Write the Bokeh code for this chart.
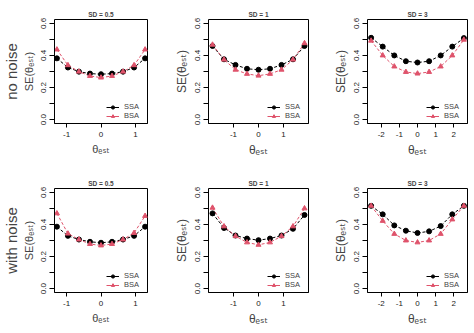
from bokeh.plotting import figure
from bokeh.layouts import gridplot
from bokeh.models import Range1d, FixedTicker, PrintfTickFormatter, Legend, LegendItem, Title
from bokeh.embed import file_html
from bokeh.resources import INLINE

# ---- data ----
x_sd05 = [-1.28, -0.96, -0.64, -0.32, 0.0, 0.32, 0.64, 0.96, 1.28]
x_sd1 = [-1.84, -1.38, -0.92, -0.46, 0.0, 0.46, 0.92, 1.38, 1.84]
x_sd3 = [-2.56, -1.92, -1.28, -0.64, 0.0, 0.64, 1.28, 1.92, 2.56]

ssa_nn_05 = [0.382, 0.325, 0.299, 0.287, 0.283, 0.287, 0.299, 0.325, 0.382]
bsa_nn_05 = [0.437, 0.339, 0.299, 0.272, 0.262, 0.272, 0.299, 0.339, 0.437]
ssa_nn_1 = [0.459, 0.376, 0.341, 0.317, 0.311, 0.317, 0.341, 0.376, 0.459]
bsa_nn_1 = [0.467, 0.374, 0.311, 0.285, 0.274, 0.285, 0.311, 0.374, 0.476]
ssa_nn_3 = [0.510, 0.455, 0.400, 0.364, 0.356, 0.364, 0.400, 0.455, 0.508]
bsa_nn_3 = [0.492, 0.400, 0.331, 0.297, 0.287, 0.297, 0.331, 0.400, 0.498]

ssa_wn_05 = [0.386, 0.329, 0.306, 0.292, 0.286, 0.292, 0.306, 0.329, 0.386]
bsa_wn_05 = [0.469, 0.343, 0.306, 0.278, 0.269, 0.278, 0.306, 0.347, 0.453]
ssa_wn_1 = [0.469, 0.378, 0.331, 0.312, 0.302, 0.312, 0.331, 0.373, 0.459]
bsa_wn_1 = [0.504, 0.388, 0.327, 0.288, 0.273, 0.288, 0.327, 0.388, 0.500]
ssa_wn_3 = [0.516, 0.463, 0.394, 0.361, 0.347, 0.357, 0.390, 0.463, 0.516]
bsa_wn_3 = [0.516, 0.422, 0.341, 0.300, 0.288, 0.300, 0.341, 0.431, 0.516]

titles = ["SD = 0.5", "SD = 1", "SD = 3"]
row_labels = ["no noise", "with noise"]
series_names = ["SSA", "BSA"]
y_ticks = [0.0, 0.2, 0.4, 0.6]
y_minor = [0.1, 0.3, 0.5]
x_ticks_sd05 = [-1, 0, 1]
x_ticks_sd1 = [-1, 0, 1]
x_ticks_sd3 = [-2, -1, 0, 1, 2]
x_half_sd05 = 1.35
x_half_sd1 = 2.0
x_half_sd3 = 2.76
y_label = "SE(θₑₛₜ)"
x_label = "θₑₛₜ"

FONT = "Liberation Sans, DejaVu Sans"
BLACK = "#000000"
PINK = "#DF536B"


def panel(xs, ssa, bsa, half, xticks, title, w, h, bl, br, bt, bb, row_label=None, lab_size="12px"):
    p = figure(width=w, height=h, output_backend="svg", toolbar_location=None,
               x_range=Range1d(-half, half), y_range=Range1d(-0.024, 0.624),
               min_border_left=bl, min_border_right=br, min_border_top=bt, min_border_bottom=bb)
    p.xgrid.visible = False
    p.ygrid.visible = False
    p.outline_line_color = BLACK
    p.outline_line_width = 1
    p.background_fill_color = "white"
    p.border_fill_color = "white"

    p.title.text = title
    p.title.text_font = FONT
    p.title.text_font_size = "6.5px"
    p.title.text_font_style = "bold"
    p.title.align = "center"
    p.title.standoff = 4

    xa = p.xaxis[0]
    xa.ticker = FixedTicker(ticks=xticks, minor_ticks=[])
    xa.formatter = PrintfTickFormatter(format="%d")
    xa.major_tick_out = 4
    xa.major_tick_in = 0
    xa.minor_tick_out = 0
    xa.major_label_standoff = 4
    xa.major_label_text_font = FONT
    xa.major_label_text_font_size = "8px"
    xa.major_label_text_color = "#222222"
    xa.axis_label = x_label
    xa.axis_label_text_font = FONT
    xa.axis_label_text_font_size = lab_size
    xa.axis_label_text_font_style = "normal"
    xa.axis_label_standoff = 3

    ya = p.yaxis[0]
    ya.ticker = FixedTicker(ticks=y_ticks, minor_ticks=y_minor)
    ya.formatter = PrintfTickFormatter(format="%.1f")
    ya.bounds = (0, 0.6)
    ya.major_tick_out = 5
    ya.major_tick_in = 0
    ya.minor_tick_out = 5
    ya.minor_tick_in = 0
    ya.major_label_orientation = "vertical"
    ya.major_label_standoff = 3
    ya.major_label_text_font = FONT
    ya.major_label_text_font_size = "8px"
    ya.major_label_text_color = "#222222"
    ya.axis_label = y_label
    ya.axis_label_text_font = FONT
    ya.axis_label_text_font_size = lab_size
    ya.axis_label_text_font_style = "normal"
    ya.axis_label_standoff = 4

    p.line(xs, ssa, line_color=BLACK, line_width=1, line_dash="3 2")
    p.line(xs, bsa, line_color=PINK, line_width=1, line_dash="3 2")
    p.scatter(xs, ssa, marker="circle", size=5, fill_color=BLACK, line_color=BLACK)
    p.scatter(xs, bsa, marker="triangle", size=5, fill_color=PINK, line_color=PINK)

    # legend proxies (solid lines, hidden from the plot area)
    l1 = p.line(xs, ssa, line_color=BLACK, line_width=1, visible=False)
    m1 = p.scatter(xs, ssa, marker="circle", size=5, fill_color=BLACK, line_color=BLACK, visible=False)
    l2 = p.line(xs, bsa, line_color=PINK, line_width=1, visible=False)
    m2 = p.scatter(xs, bsa, marker="triangle", size=5, fill_color=PINK, line_color=PINK, visible=False)
    leg = Legend(items=[LegendItem(label=series_names[0], renderers=[l1, m1]),
                        LegendItem(label=series_names[1], renderers=[l2, m2])],
                 location="bottom_right")
    leg.border_line_color = None
    leg.background_fill_alpha = 0
    leg.inactive_fill_alpha = 0
    leg.label_text_font = FONT
    leg.label_text_font_size = "7.5px"
    leg.glyph_width = 13
    leg.glyph_height = 8
    leg.label_height = 8
    leg.label_standoff = 5
    leg.spacing = 0
    leg.padding = 2
    leg.margin = 3
    p.add_layout(leg, "center")

    if row_label:
        t = Title(text=row_label, align="center", text_font=FONT, text_font_size="15px",
                  text_font_style="normal", standoff=0)
        p.add_layout(t, "left")
    return p


p1 = panel(x_sd05, ssa_nn_05, bsa_nn_05, x_half_sd05, x_ticks_sd05, titles[0], 155, 165, 51, 8, 19, 42, row_labels[0], "11px")
p2 = panel(x_sd1, ssa_nn_1, bsa_nn_1, x_half_sd1, x_ticks_sd1, titles[1], 155, 165, 53, 2, 19, 42, None, "12px")
p3 = panel(x_sd3, ssa_nn_3, bsa_nn_3, x_half_sd3, x_ticks_sd3, titles[2], 164, 165, 57, 7, 19, 42, None, "12px")
p4 = panel(x_sd05, ssa_wn_05, bsa_wn_05, x_half_sd05, x_ticks_sd05, titles[0], 155, 168, 51, 8, 23, 41, row_labels[1], "11px")
p5 = panel(x_sd1, ssa_wn_1, bsa_wn_1, x_half_sd1, x_ticks_sd1, titles[1], 155, 168, 53, 2, 23, 41, None, "12px")
p6 = panel(x_sd3, ssa_wn_3, bsa_wn_3, x_half_sd3, x_ticks_sd3, titles[2], 164, 168, 57, 7, 23, 41, None, "12px")

grid = gridplot([[p1, p2, p3], [p4, p5, p6]], toolbar_location=None)

open("out.html", "w").write(file_html(grid, INLINE))
